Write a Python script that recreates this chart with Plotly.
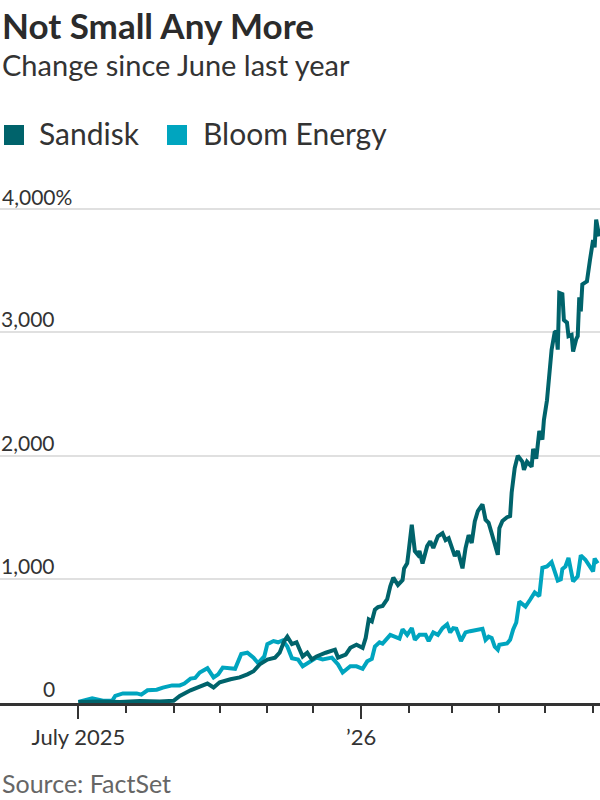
import plotly.graph_objects as go

# ---------------- data ----------------
sandisk_dates = [
    "2025-07-01", "2025-07-15", "2025-07-28", "2025-08-10", "2025-08-23", "2025-09-01",
    "2025-09-05", "2025-09-10", "2025-09-12", "2025-09-18", "2025-09-23", "2025-09-27",
    "2025-10-01", "2025-10-08", "2025-10-14", "2025-10-19", "2025-10-23", "2025-10-27",
    "2025-11-01", "2025-11-06", "2025-11-09", "2025-11-12", "2025-11-14", "2025-11-17",
    "2025-11-20", "2025-11-24", "2025-11-27", "2025-11-30", "2025-12-03", "2025-12-09",
    "2025-12-12", "2025-12-15", "2025-12-17", "2025-12-22", "2025-12-25", "2025-12-29",
    "2026-01-02", "2026-01-04", "2026-01-06", "2026-01-08", "2026-01-10", "2026-01-12",
    "2026-01-15", "2026-01-18", "2026-01-20", "2026-01-22", "2026-01-25", "2026-01-28",
    "2026-01-29", "2026-01-31", "2026-02-01", "2026-02-02", "2026-02-03", "2026-02-05",
    "2026-02-07", "2026-02-08", "2026-02-10", "2026-02-13", "2026-02-15", "2026-02-17",
    "2026-02-20", "2026-02-23", "2026-02-25", "2026-02-27", "2026-03-01", "2026-03-03",
    "2026-03-05", "2026-03-08", "2026-03-10", "2026-03-12", "2026-03-14", "2026-03-16",
    "2026-03-18", "2026-03-21", "2026-03-23", "2026-03-25", "2026-03-27", "2026-03-29",
    "2026-03-31", "2026-04-01", "2026-04-03", "2026-04-06", "2026-04-08", "2026-04-09",
    "2026-04-11", "2026-04-13", "2026-04-16", "2026-04-17", "2026-04-19", "2026-04-22",
    "2026-04-23", "2026-04-25", "2026-04-27", "2026-04-29", "2026-04-30", "2026-05-02",
    "2026-05-04", "2026-05-05", "2026-05-07", "2026-05-08", "2026-05-09", "2026-05-10",
    "2026-05-12", "2026-05-13", "2026-05-15", "2026-05-16", "2026-05-18", "2026-05-19",
    "2026-05-21", "2026-05-22", "2026-05-23", "2026-05-24", "2026-05-25", "2026-05-28",
    "2026-05-30", "2026-06-01", "2026-06-02", "2026-06-03", "2026-06-05",
]
sandisk_values = [
    0, 5, 0, 8, 5, 10,
    50, 85, 95, 125, 150, 118,
    160, 185, 200, 225, 250, 305,
    345, 360, 400, 495, 530, 470,
    485, 370, 400, 345, 370, 400,
    410, 425, 360, 385, 440, 465,
    440, 520, 670, 655, 750, 770,
    780, 835, 940, 1010, 950, 990,
    1085, 1125, 1225, 1330, 1440, 1225,
    1195, 1225, 1125, 1265, 1305, 1250,
    1345, 1370, 1315, 1330, 1265, 1185,
    1225, 1085, 1250, 1355, 1290, 1465,
    1550, 1605, 1480, 1455, 1370, 1265,
    1195, 1410, 1470, 1500, 1510, 1700,
    1900, 2000, 1950, 1885, 1950, 1910,
    2055, 1975, 2200, 2130, 2290, 2450,
    2675, 2860, 3000, 3010, 2860, 3320,
    3310, 3100, 3080, 2970, 2980, 2845,
    2945, 2970, 3285, 3170, 3390, 3415,
    3590, 3750, 3690, 3915, 3780,
]

bloom_dates = [
    "2025-07-01", "2025-07-10", "2025-07-17", "2025-07-23", "2025-07-25", "2025-07-30",
    "2025-08-08", "2025-08-11", "2025-08-15", "2025-08-21", "2025-08-25", "2025-08-31",
    "2025-09-05", "2025-09-08", "2025-09-12", "2025-09-15", "2025-09-18", "2025-09-23",
    "2025-09-27", "2025-09-30", "2025-10-03", "2025-10-11", "2025-10-15", "2025-10-19",
    "2025-10-23", "2025-10-26", "2025-10-30", "2025-11-01", "2025-11-05", "2025-11-08",
    "2025-11-11", "2025-11-14", "2025-11-17", "2025-11-21", "2025-11-24", "2025-11-29",
    "2025-12-03", "2025-12-07", "2025-12-13", "2025-12-17", "2025-12-20", "2025-12-25",
    "2025-12-29", "2026-01-02", "2026-01-05", "2026-01-08", "2026-01-10", "2026-01-13",
    "2026-01-15", "2026-01-20", "2026-01-23", "2026-01-26", "2026-01-28", "2026-01-31",
    "2026-02-03", "2026-02-05", "2026-02-08", "2026-02-12", "2026-02-14", "2026-02-17",
    "2026-02-20", "2026-02-23", "2026-02-26", "2026-02-28", "2026-03-02", "2026-03-04",
    "2026-03-07", "2026-03-10", "2026-03-13", "2026-03-16", "2026-03-21", "2026-03-23",
    "2026-03-25", "2026-03-27", "2026-03-29", "2026-03-31", "2026-04-01", "2026-04-06",
    "2026-04-08", "2026-04-10", "2026-04-12", "2026-04-14", "2026-04-18", "2026-04-21",
    "2026-04-24", "2026-04-27", "2026-04-29", "2026-05-02", "2026-05-05", "2026-05-09",
    "2026-05-11", "2026-05-12", "2026-05-14", "2026-05-16", "2026-05-19", "2026-05-22",
    "2026-05-24", "2026-05-27", "2026-05-30", "2026-06-01", "2026-06-02", "2026-06-04",
]
bloom_values = [
    0, 30, 10, 10, 50, 70,
    70, 60, 95, 100, 117, 135,
    135, 150, 190, 195, 240, 275,
    200, 225, 280, 270, 390, 400,
    360, 315, 370, 470, 495, 485,
    500, 450, 355, 345, 290, 330,
    360, 345, 360, 305, 240, 290,
    290, 270, 330, 350, 450, 485,
    475, 545, 530, 515, 590, 545,
    600, 505, 545, 545, 495, 565,
    545, 600, 630, 565, 600, 595,
    495, 565, 575, 580, 595, 505,
    530, 520, 450, 425, 465, 475,
    505, 590, 645, 815, 775, 830,
    890, 860, 1090, 1100, 1135, 985,
    995, 1080, 1100, 1170, 980, 1020,
    1190, 1155, 1100, 1060, 1165, 1125,
]

y_ticks = [0, 1000, 2000, 3000, 4000]
y_tick_text = ["0", "1,000", "2,000", "3,000", "4,000%"]
x_major_ticks = ["2025-07-01", "2026-01-01"]
x_major_text = ["July 2025", "\u201926"]
x_minor_ticks = ["2025-08-01", "2025-09-01", "2025-10-01", "2025-11-01", "2025-12-01",
                 "2026-02-01", "2026-03-01", "2026-04-01", "2026-05-01", "2026-06-01"]

SANDISK_COLOR = "#00636b"
BLOOM_COLOR = "#00a5bf"
FONT = "Lato"

# ---------------- layout helpers ----------------
W, H = 600, 800
M_TOP, M_BOT = 200, 97
PLOT_H = H - M_TOP - M_BOT
PLOT_BOTTOM = H - M_BOT


def py(p):
    """pixel row -> paper y"""
    return (PLOT_BOTTOM - p) / PLOT_H


def px(p):
    return p / W


fig = go.Figure()
fig.add_trace(go.Scatter(x=bloom_dates, y=bloom_values, mode="lines", name="Bloom Energy",
                         line=dict(color=BLOOM_COLOR, width=4), hoverinfo="skip"))
fig.add_trace(go.Scatter(x=sandisk_dates, y=sandisk_values, mode="lines", name="Sandisk",
                         line=dict(color=SANDISK_COLOR, width=4), hoverinfo="skip"))

annotations = []
# y tick labels (inside, above gridlines)
for v, t in zip(y_ticks, y_tick_text):
    if t.endswith("%"):
        annotations.append(dict(x=0, xref="paper", y=v, yref="y", text=t, showarrow=False,
                                xanchor="left", yanchor="bottom", yshift=-2,
                                font=dict(family=FONT, size=21, color="#333333")))
    else:
        annotations.append(dict(x=px(57), xref="paper", y=v, yref="y", text=t, showarrow=False,
                                xanchor="right", yanchor="bottom", yshift=-1,
                                font=dict(family=FONT, size=21, color="#333333")))

# title, subtitle
annotations.append(dict(x=0, xref="paper", y=py(2), yref="paper", text="<b>Not Small Any More</b>",
                        showarrow=False, xanchor="left", yanchor="top",
                        font=dict(family=FONT, size=35, color="#2b2b2b")))
annotations.append(dict(x=0, xref="paper", y=py(45), yref="paper", text="Change since June last year",
                        showarrow=False, xanchor="left", yanchor="top",
                        font=dict(family=FONT, size=29, color="#333333")))
# legend
annotations.append(dict(x=px(37), xref="paper", y=py(133), yref="paper", text="Sandisk",
                        showarrow=False, xanchor="left", yanchor="middle",
                        font=dict(family=FONT, size=30, color="#333333")))
annotations.append(dict(x=px(201), xref="paper", y=py(133), yref="paper", text="Bloom Energy",
                        showarrow=False, xanchor="left", yanchor="middle",
                        font=dict(family=FONT, size=30, color="#333333")))
# source
annotations.append(dict(x=0, xref="paper", y=py(783), yref="paper", text="Source: FactSet",
                        showarrow=False, xanchor="left", yanchor="middle",
                        font=dict(family=FONT, size=25, color="#666666")))

shapes = [
    dict(type="rect", xref="paper", yref="paper", x0=px(4), x1=px(24), y0=py(145), y1=py(125),
         fillcolor=SANDISK_COLOR, line=dict(width=0)),
    dict(type="rect", xref="paper", yref="paper", x0=px(167), x1=px(187), y0=py(145), y1=py(125),
         fillcolor=BLOOM_COLOR, line=dict(width=0)),
]

fig.update_layout(
    width=W, height=H,
    margin=dict(l=0, r=0, t=M_TOP, b=M_BOT, pad=0),
    paper_bgcolor="white", plot_bgcolor="white",
    showlegend=False,
    annotations=annotations,
    shapes=shapes,
    font=dict(family=FONT, color="#333333"),
)
fig.update_xaxes(
    type="date",
    range=["2025-05-11", "2026-06-05 12:00"],
    showgrid=False, zeroline=False,
    showline=True, linecolor="#333333", linewidth=2.5,
    tickmode="array", tickvals=x_major_ticks, ticktext=x_major_text,
    ticks="outside", ticklen=13, tickwidth=2, tickcolor="#333333",
    tickfont=dict(family=FONT, size=22, color="#333333"),
    minor=dict(ticks="outside", ticklen=7, tickwidth=2, tickcolor="#333333",
               tickvals=x_minor_ticks, showgrid=False),
)
fig.update_yaxes(
    range=[-8, 4075],
    tickmode="array", tickvals=[1000, 2000, 3000, 4000],
    showticklabels=False, ticks="",
    showgrid=True, gridcolor="#e0e0e0", gridwidth=1.5,
    zeroline=False, showline=False,
)

fig.write_html("out.html")
